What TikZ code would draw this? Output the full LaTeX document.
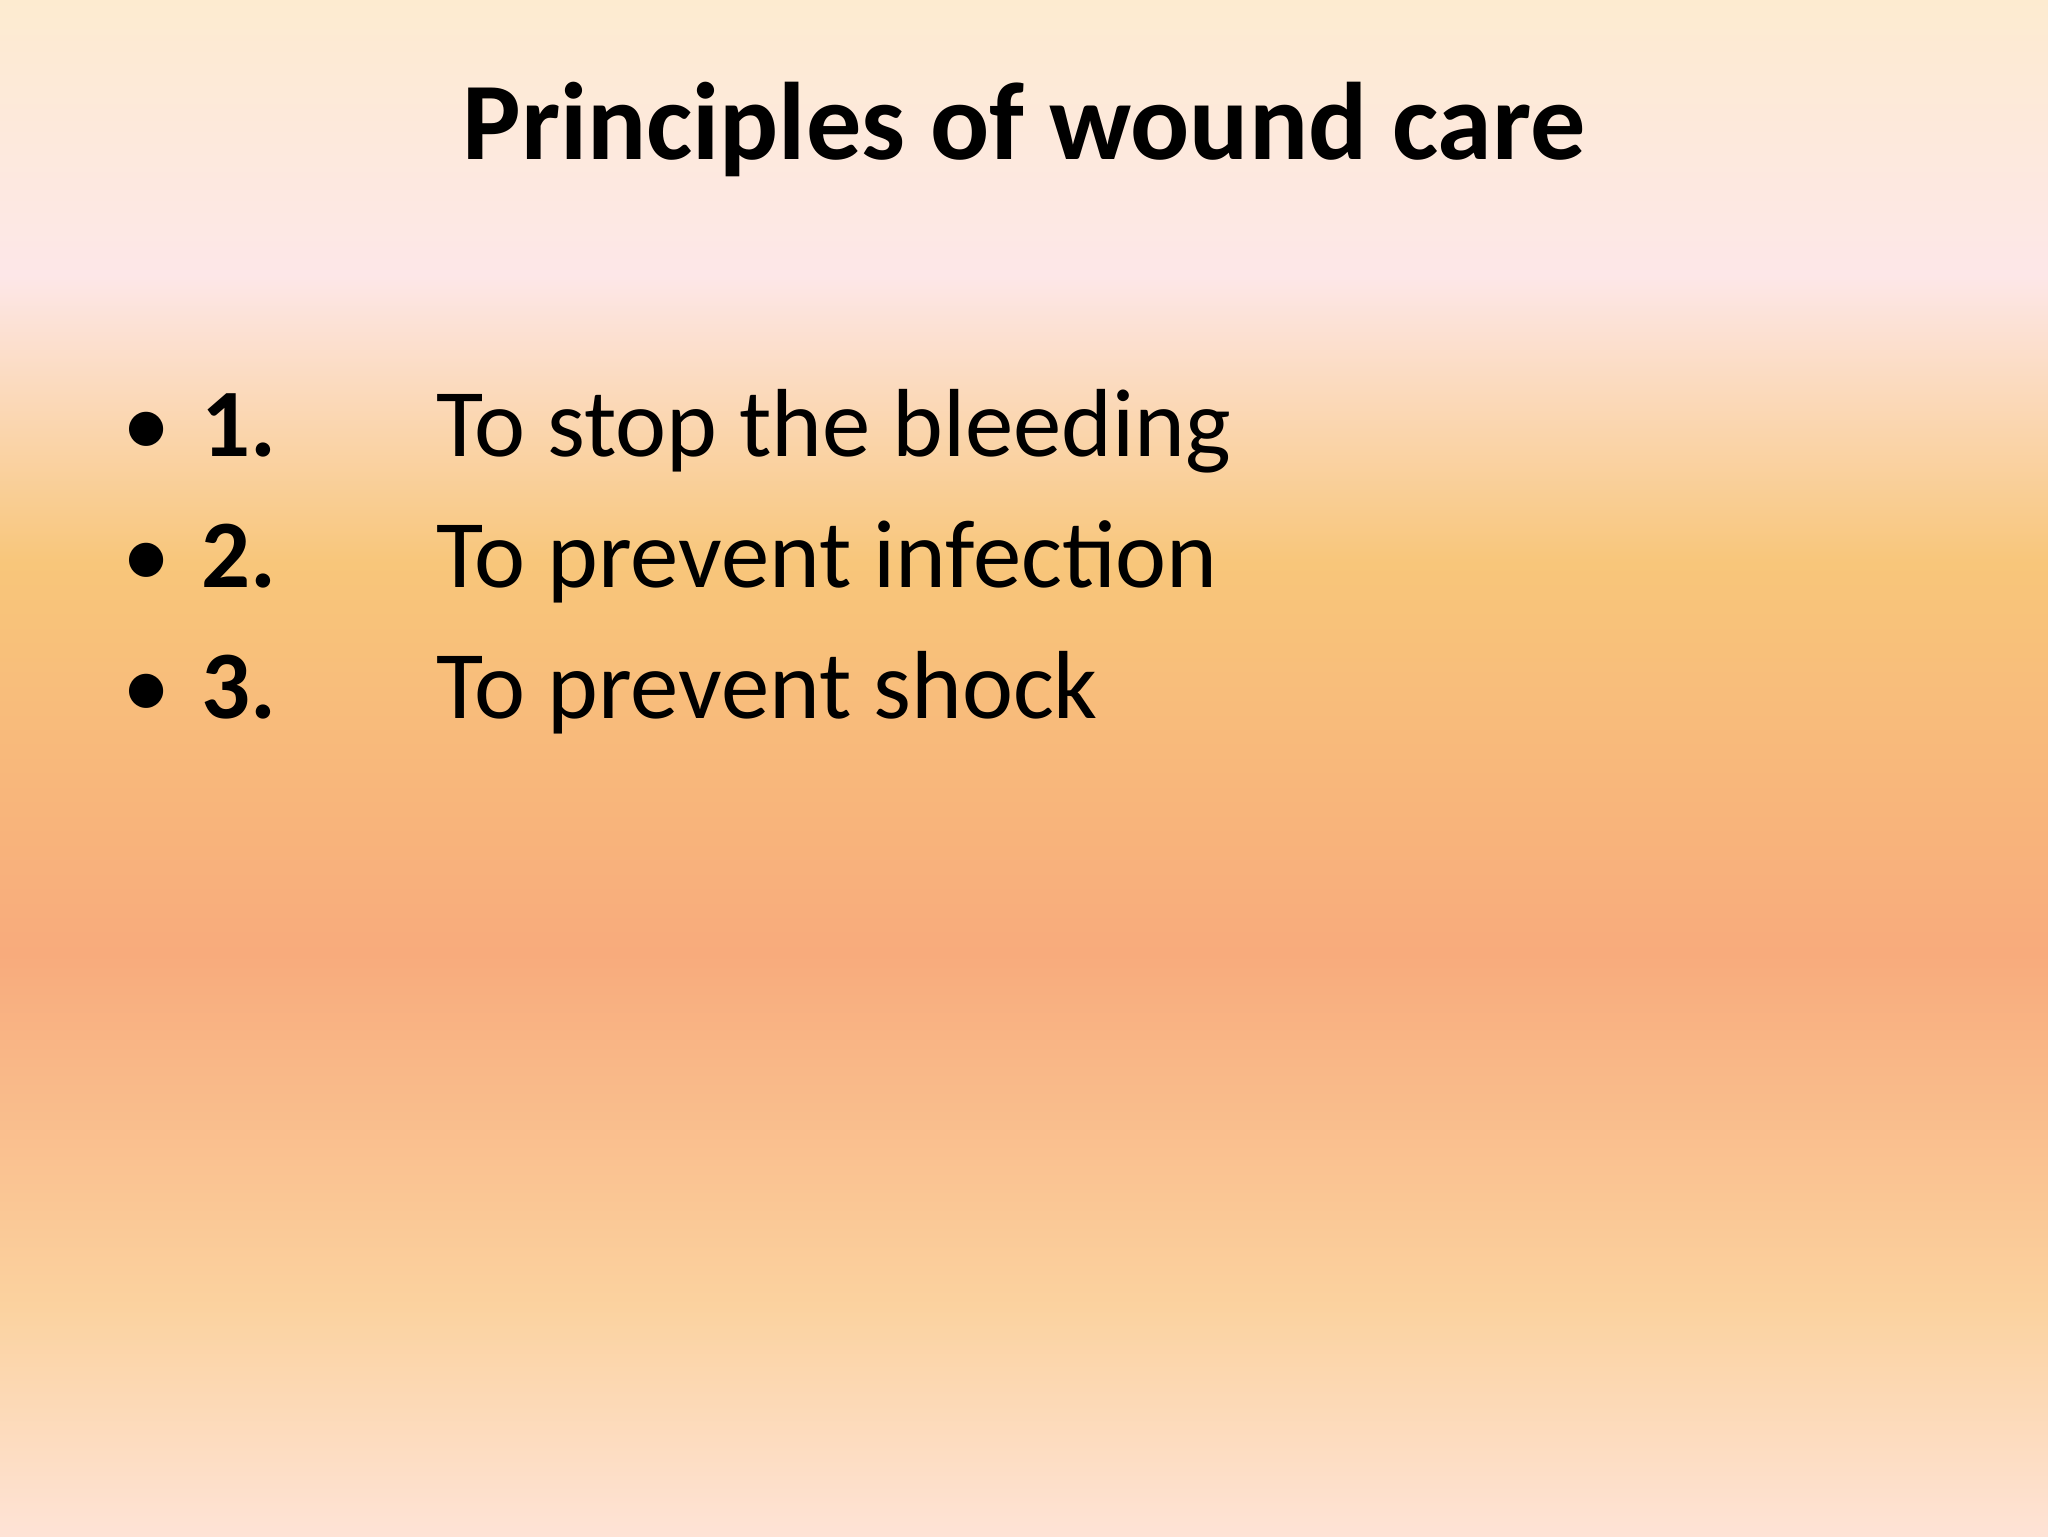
\documentclass[tikz,border=0pt]{standalone}
\usepackage{fontspec}
\setmainfont{Carlito}
\definecolor{bgA}{HTML}{FDEBD0}
\definecolor{bgB}{HTML}{FDE7E8}
\definecolor{bgC}{HTML}{F8C67A}
\definecolor{bgD}{HTML}{F8AB7C}
\definecolor{bgE}{HTML}{FBD29F}
\definecolor{bgF}{HTML}{FEE3D6}
\tikzset{
  itemtext/.style={anchor=base west, inner sep=0pt, font=\fontsize{21.5}{26}\selectfont},
  band/.style={draw=none}
}
\begin{document}
\begin{tikzpicture}
  % background bands
  \shade[band, top color=bgA, bottom color=bgB] (0,12) rectangle (16,9.85);
  \shade[band, top color=bgB, bottom color=bgC] (0,9.85) rectangle (16,7.6);
  \shade[band, top color=bgC, bottom color=bgD] (0,7.6) rectangle (16,4.55);
  \shade[band, top color=bgD, bottom color=bgE] (0,4.55) rectangle (16,1.8);
  \shade[band, top color=bgE, bottom color=bgF] (0,1.8) rectangle (16,0);
  \useasboundingbox (0,0) rectangle (16,12);

  \node[anchor=base, font=\bfseries\fontsize{24.5}{30}\selectfont] (title) at (8,10.75) {Principles of wound care};

  \foreach \i/\y/\txt in {1/8.43/To stop the bleeding, 2/7.41/To prevent infection, 3/6.39/To prevent shock} {
    \node[itemtext] (b\i) at (0.95,\y) {•};
    \node[itemtext, font=\bfseries\fontsize{21.5}{26}\selectfont] (n\i) at (1.57,\y) {\i.};
    \node[itemtext] (t\i) at (3.4,\y) {\txt};
  }
\end{tikzpicture}
\end{document}
